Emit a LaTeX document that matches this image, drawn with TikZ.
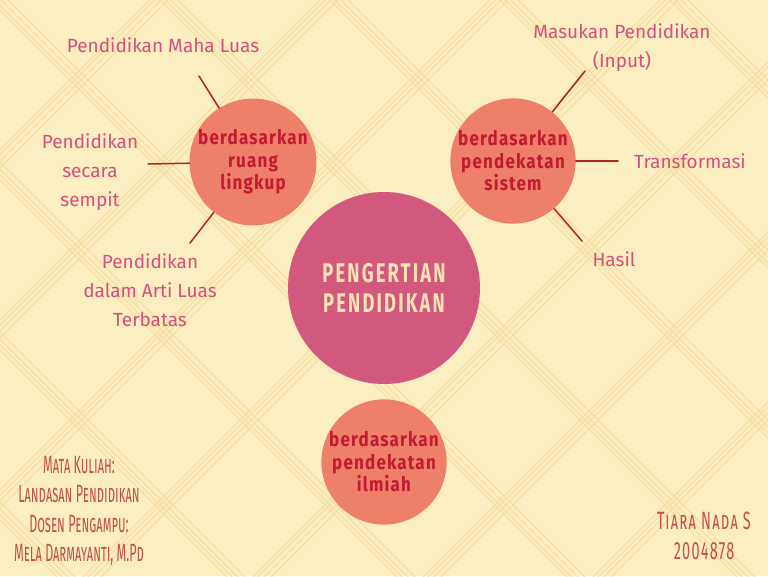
\documentclass[tikz,border=0pt]{standalone}
\usepackage{fontspec}
\newfontfamily\labelfont{Fira Sans}
\newfontfamily\blobfont[FakeStretch=0.85,LetterSpace=6]{Fira Sans}
\newfontfamily\titlefont[FakeStretch=0.68,LetterSpace=8]{Fira Sans}
\newfontfamily\capsfont[FakeStretch=0.5]{Fira Sans}
\newfontfamily\namefont[FakeStretch=0.58,LetterSpace=5]{Fira Sans}
\usetikzlibrary{positioning}
\definecolor{paper}{HTML}{FBEEC0}
\definecolor{hatch}{HTML}{F5DB9C}
\definecolor{hubpink}{HTML}{D2587D}
\definecolor{salmon}{HTML}{EE806A}
\definecolor{blobred}{HTML}{C21A30}
\definecolor{leafpink}{HTML}{D4507D}
\definecolor{spokered}{HTML}{B3212B}
\definecolor{hubtext}{HTML}{FCE3B5}
\definecolor{notered}{HTML}{C4504A}

\begin{document}
\begin{tikzpicture}[
    x=1pt, y=-1pt,
    line cap=round
]
\tikzset{
    hubnode/.style = {circle, fill=hubpink, minimum size=192pt, inner sep=0pt, align=center,
        text=hubtext, font=\titlefont\bfseries\fontsize{27}{30}\selectfont},
    topicnode/.style = {circle, fill=salmon, minimum size=124pt, inner sep=0pt, align=center,
        text=blobred, font=\blobfont\bfseries\fontsize{20}{22.5}\selectfont},
    leafnode/.style = {align=center, text=leafpink, font=\labelfont\fontsize{19}{29}\selectfont},
    notenode/.style = {align=center, text=notered, font=\capsfont\scshape\fontsize{25}{29.5}\selectfont},
    spoke/.style = {spokered, line width=1.5pt},
    hatchline/.style = {hatch, line width=1.1pt, opacity=0.75}
}
% background
\fill[paper] (0,0) rectangle (768,576);
\useasboundingbox (0,0) rectangle (768,576);
\begin{scope}
\clip (0,0) rectangle (768,576);
\foreach \c in {-520,-350,-180,-10,160,330,500,670} {
    \foreach \d in {0,5,11,18} {
        \draw[hatchline] (\c+\d-100,-100) -- (\c+\d+700,700);
        \draw[hatchline] (\c+\d+600,-100) -- (\c+\d-200,700);
    }
}
\end{scope}

% circles
\node[hubnode] at (384,288) (hub) {PENGERTIAN\\PENDIDIKAN};
\node[topicnode] at (253,162) (ruang) {berdasarkan\\ruang\\lingkup};
\node[topicnode] at (513,161) (sistem) {berdasarkan\\pendekatan\\sistem};
\node[topicnode] at (384,462) (ilmiah) {berdasarkan\\pendekatan\\ilmiah};

% leaves
\node[leafnode] at (163,45) (mahaluas) {Pendidikan Maha Luas};
\node[leafnode] at (90,172) (sempit) {Pendidikan\\secara\\sempit};
\node[leafnode] at (150,290) (terbatas) {Pendidikan\\dalam Arti Luas\\Terbatas};
\node[leafnode] at (622,48) (input) {Masukan Pendidikan\\(Input)};
\node[leafnode] at (690,161) (transformasi) {Transformasi};
\node[leafnode] at (614,259) (hasil) {Hasil};

\coordinate (mahaluasEnd) at (199,76);
\coordinate (sempitEnd) at (148,164);
\coordinate (terbatasEnd) at (190,243);
\coordinate (inputEnd) at (585,71);
\coordinate (transformasiEnd) at (618,161);
\coordinate (hasilEnd) at (582,241);

\draw[spoke] (mahaluasEnd) -- (ruang);
\draw[spoke] (sempitEnd) -- (ruang);
\draw[spoke] (terbatasEnd) -- (ruang);
\draw[spoke] (inputEnd) -- (sistem);
\draw[spoke] (transformasiEnd) -- (sistem);
\draw[spoke] (hasilEnd) -- (sistem);

% notes
\node[notenode] at (79,511) (kuliah) {Mata Kuliah:\\Landasan Pendidikan\\Dosen Pengampu:\\Mela Darmayanti, M.Pd};
\node[notenode, font=\namefont\scshape\fontsize{25}{30}\selectfont] at (704,536) (penulis) {Tiara Nada S\\2004878};
\end{tikzpicture}
\end{document}
